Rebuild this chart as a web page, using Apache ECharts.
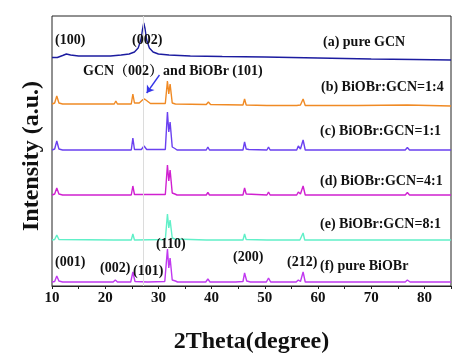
<!DOCTYPE html>
<html><head><meta charset="utf-8">
<script src="https://cdn.jsdelivr.net/npm/echarts@6/dist/echarts.min.js"></script>
<style>html,body{margin:0;padding:0;background:#fff}#c{width:474px;height:361px}</style>
</head><body><div id="c"></div>
<script>
// 2Theta (deg) vs relative intensity for each pattern
const seriesNames = ['(a) pure GCN','(b) BiOBr:GCN=1:4','(c) BiOBr:GCN=1:1','(d) BiOBr:GCN=4:1','(e) BiOBr:GCN=8:1','(f) pure BiOBr'];
const offsets = [226, 180, 136, 91, 46, 3];
const traceA = [[10,2.5],[11,2.5],[12,4.5],[12.7,6],[13.5,5],[15,4],[18,4],[21,4],[23,5],[24.5,6],[25.5,8],[26.2,12],[26.7,20],[27.0,30],[27.25,37],[27.5,31],[27.8,20],[28.3,12],[29,8],[30,6],[32,5],[36,4],[42,3.5],[50,3],[60,2],[70,1],[78,0.5],[85,0]];
const traceB = [[10,2],[10.5,3],[10.9,10],[11.3,3],[12,2],[20,2],[21.7,2],[22,5],[22.3,2],[24.9,2],[25.2,12],[25.5,3],[26.4,3],[27,6],[27.4,7],[27.9,5],[28.5,2.5],[31.3,2.5],[31.7,25],[31.95,12],[32.2,22],[32.6,3],[33.2,2],[39,1.5],[39.4,4],[39.8,1.5],[45.9,1],[46.2,7],[46.5,1],[50.4,0.5],[50.7,2.5],[51,0.5],[53.2,0.5],[53.4,1.5],[53.7,0.5],[56,0.5],[56.3,2],[56.7,1],[57.2,7],[57.6,0.5],[67.5,0.5],[76.8,1],[85,0]];
const traceC = [[10,0],[10.5,1],[10.9,9],[11.3,1],[12,0],[21.6,0],[21.9,2],[22.2,0],[24.9,0],[25.2,12],[25.5,0.5],[26.8,0.5],[27.3,4],[27.8,0.5],[31.3,0.5],[31.7,38],[31.95,18],[32.2,28],[32.6,3],[33.1,1.5],[33.5,0],[39,0],[39.3,3],[39.6,0],[45.9,0],[46.2,8],[46.5,1],[47,0.5],[50.4,0],[50.7,3],[51,0],[53.1,0],[53.4,2],[53.7,0],[56,0],[56.3,4],[56.7,1],[57.2,10],[57.6,0],[66,0],[66.3,1],[66.6,0],[67.2,0],[67.5,1.5],[67.8,0],[70.7,0],[71,1],[71.3,0],[76.4,0],[76.8,2.5],[77.2,0],[85,0]];
const traceD = [[10,0],[10.5,1],[10.9,7],[11.3,1],[12,0],[21.6,0],[21.9,2],[22.2,0],[24.9,0],[25.2,9],[25.5,0.5],[31.3,0.5],[31.7,30],[31.95,14],[32.2,25],[32.6,2],[33.1,1],[33.5,0],[39,0],[39.3,2.5],[39.6,0],[45.9,0],[46.2,7],[46.5,1],[50.4,0],[50.7,3],[51,0],[53.1,0],[53.4,2],[53.7,0],[56,0],[56.3,3],[56.7,1],[57.2,9],[57.6,0],[66,0],[66.3,1],[66.6,0],[67.2,0],[67.5,1.5],[67.8,0],[70.7,0],[71,1],[71.3,0],[76.4,0],[76.8,2.5],[77.2,0],[85,0]];
const traceE = [[10,0],[10.5,0.5],[10.9,5],[11.3,0.5],[21.6,0],[21.9,2],[22.2,0],[24.9,0],[25.2,6],[25.5,0],[31.3,0.5],[31.7,26],[31.95,12],[32.2,20],[32.6,2],[33.1,1],[39,0],[39.3,2],[39.6,0],[45.9,0],[46.2,6],[46.5,0.5],[50.4,0],[50.7,2],[51,0],[53.2,0],[53.4,1.5],[53.7,0],[56,0],[56.3,2],[56.6,0],[56.9,0],[57.2,7],[57.5,0],[67.2,0],[67.5,1],[67.8,0],[76.5,0],[76.8,1.5],[77.1,0],[85,0]];
const traceF = [[10,1],[10.5,1.5],[10.9,7],[11.3,2],[12,1],[15,1],[21.5,1],[21.9,3],[22.3,1],[24.8,1],[25.2,11],[25.6,1.5],[28,1],[31.2,1.5],[31.7,34],[31.95,15],[32.2,25],[32.6,3],[33.2,2],[33.6,1],[38.9,1],[39.3,4],[39.7,1],[44.5,1],[45.9,1.5],[46.2,10],[46.6,2],[47.3,1],[50.3,1],[50.7,5],[51.1,1],[53.1,1],[53.4,3],[53.8,1],[55.9,1],[56.3,3],[56.7,1.5],[57.2,11],[57.6,1],[66,1],[66.3,2],[66.7,1],[67.2,1],[67.5,2],[67.9,1],[70.7,1],[71,2],[71.4,1],[76.4,1],[76.8,3],[77.3,1],[85,1]];
const traces = [traceA, traceB, traceC, traceD, traceE, traceF];
const colors = ['#1c1ca0','#f08a24','#6a40f0','#d020d0','#60f0c8','#c038f0'];
const xTicks = [10,20,30,40,50,60,70,80];
const gcnPeak = 27.2;

const F = "'Times New Roman','Liberation Serif','Noto Serif CJK SC','Noto Sans CJK SC',serif";
const chart = echarts.init(document.getElementById('c'));
const series = traces.map((t, i) => ({
  name: seriesNames[i], type: 'line', showSymbol: false, symbol: 'none', z: 3,
  lineStyle: { color: colors[i], width: 1.4 },
  data: t.map(p => [p[0], p[1] + offsets[i]])
}));
series[0].markLine = {
  silent: true, symbol: ['none','none'], animation: false,
  lineStyle: { color: '#dcdcdc', width: 1, type: 'solid' }, label: { show: false },
  data: [{ xAxis: gcnPeak }]
};
series[1].markLine = {
  silent: true, symbol: ['none','arrow'], symbolSize: 7, animation: false,
  lineStyle: { color: '#3535e8', width: 1.3, type: 'solid' }, label: { show: false },
  data: [[{ coord: [30.2, 211] }, { coord: [27.8, 193] }]]
};
const txt = (t, x, y) => ({ type: 'text', left: x, top: y - 8, z: 10,
  style: { text: t, font: 'bold 14px ' + F, fill: '#111' } });
chart.setOption({
  animation: false,
  grid: { left: 52, top: 16, width: 399, height: 270, show: true, borderColor: '#222', borderWidth: 1 },
  xAxis: {
    type: 'value', min: 10, max: 85, interval: 5,
    axisLine: { show: true, lineStyle: { color: '#222' } },
    axisTick: { show: true, length: 3, lineStyle: { color: '#222' } },
    splitLine: { show: false },
    axisLabel: { margin: 5, color: '#111', fontFamily: F, fontWeight: 'bold', fontSize: 15,
      formatter: v => xTicks.includes(v) ? String(v) : '' },
    name: '2Theta(degree)', nameLocation: 'middle', nameGap: 44,
    nameTextStyle: { fontFamily: F, fontWeight: 'bold', fontSize: 24, color: '#111' }
  },
  yAxis: {
    type: 'value', min: 0, max: 270,
    axisLine: { show: false }, axisTick: { show: false }, axisLabel: { show: false }, splitLine: { show: false }
  },
  series: series,
  graphic: [
    { type: 'text', x: 32, y: 156, rotation: Math.PI / 2, z: 10,
      style: { text: 'Intensity (a.u.)', font: 'bold 24px ' + F, fill: '#111', align: 'center', verticalAlign: 'middle' } },
    txt('(100)', 55, 41), txt('(002)', 132, 41),
    txt('GCN（002）and BiOBr (101)', 83, 72),
    txt(seriesNames[0], 323, 43), txt(seriesNames[1], 321, 88), txt(seriesNames[2], 320, 132),
    txt(seriesNames[3], 320, 182), txt(seriesNames[4], 320, 225), txt(seriesNames[5], 320, 267),
    txt('(001)', 55, 263), txt('(002)', 100, 269), txt('(101)', 133, 272),
    txt('(110)', 156, 245), txt('(200)', 233, 258), txt('(212)', 287, 263)
  ]
});
</script></body></html>
